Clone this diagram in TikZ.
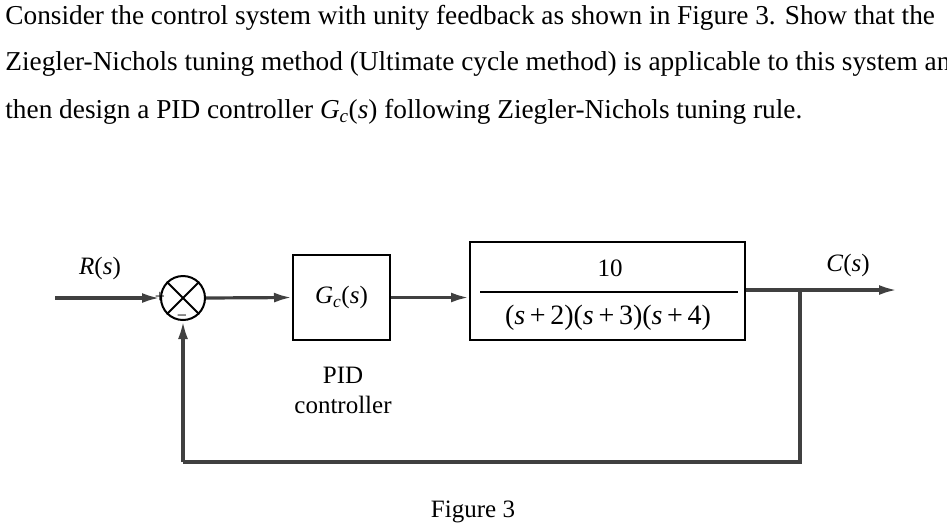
\documentclass[tikz,border=0pt]{standalone}
\usepackage{fontspec}
\setmainfont{Liberation Serif}
\usetikzlibrary{arrows.meta}
\begin{document}
\begin{tikzpicture}[x=1pt, y=-1pt, thick,
    txt/.style = {anchor=west, inner sep=0pt, font=\fontsize{27.3}{32}\selectfont},
    lbl/.style = {inner sep=0pt, font=\fontsize{25}{30}\selectfont},
    blk/.style = {draw, line width=2pt, inner sep=0pt},
    sig/.style = {line width=3.2pt, draw=black!75, -{Latex[length=18pt, width=10pt]}},
    wire/.style = {line width=3.2pt, draw=black!75}]
    \useasboundingbox (0,0) rectangle (947,531);
    % question text
    \node[txt] (l1) at (5,18) {Consider the control system with unity feedback as shown in Figure 3. Show that the};
    \node[txt] (l2) at (5,64) {Ziegler-Nichols tuning method (Ultimate cycle method) is applicable to this system and};
    \node[txt] (l3) at (5,112) {then design a PID controller \textit{G\textsubscript{c}}(\textit{s}) following Ziegler-Nichols tuning rule.};
    % blocks
    \node[draw, circle, line width=2pt, minimum size=44pt, inner sep=0pt] (sum) at (183,298) {};
    \draw[line width=2pt] (sum.north west) -- (sum.south east) (sum.north east) -- (sum.south west);
    \node[lbl, font=\fontsize{18}{18}\selectfont] (plus) at (160,297) {+};
    \node[lbl, font=\fontsize{18}{18}\selectfont] (minus) at (182,318) {\textminus};
    \node[blk, minimum width=97pt, minimum height=85pt] (gc) at (341.5,297.5) {\fontsize{25}{30}\selectfont\textit{G\textsubscript{c}}(\textit{s})};
    \node[blk, minimum width=275pt, minimum height=98pt] (plant) at (607.5,291) {};
    \node[lbl] (num) at (610,268) {10};
    \draw[line width=1.2pt] (480,292) -- (738,292);
    \node[lbl, font=\fontsize{28}{30}\selectfont] (den) at (608,318) {(\textit{s}\,+\,2)(\textit{s}\,+\,3)(\textit{s}\,+\,4)};
    % labels
    \node[lbl] (rs) at (100,268) {\textit{R}(\textit{s})};
    \node[lbl] (cs) at (848,265) {\textit{C}(\textit{s})};
    \node[lbl, align=center] (pid) at (343,390) {PID\\controller};
    \node[lbl] (fig) at (473,512) {Figure 3};
    % connectors
    \coordinate (in) at (55,298);
    \coordinate (out) at (897,290);
    \coordinate (tap) at (800,290);
    \coordinate (fbr) at (800,462);
    \coordinate (fbl) at (183,462);
    \draw[sig] (in) -- (sum.west);
    \draw[sig] (sum.east) -- (gc.west);
    \draw[sig] (gc.east) -- (gc.east -| plant.west);
    \draw[sig] (plant.east |- out) -- (out);
    \draw[wire] (tap) -- (fbr) -- (fbl);
    \draw[sig] (fbl) -- (sum.south);
\end{tikzpicture}
\end{document}
